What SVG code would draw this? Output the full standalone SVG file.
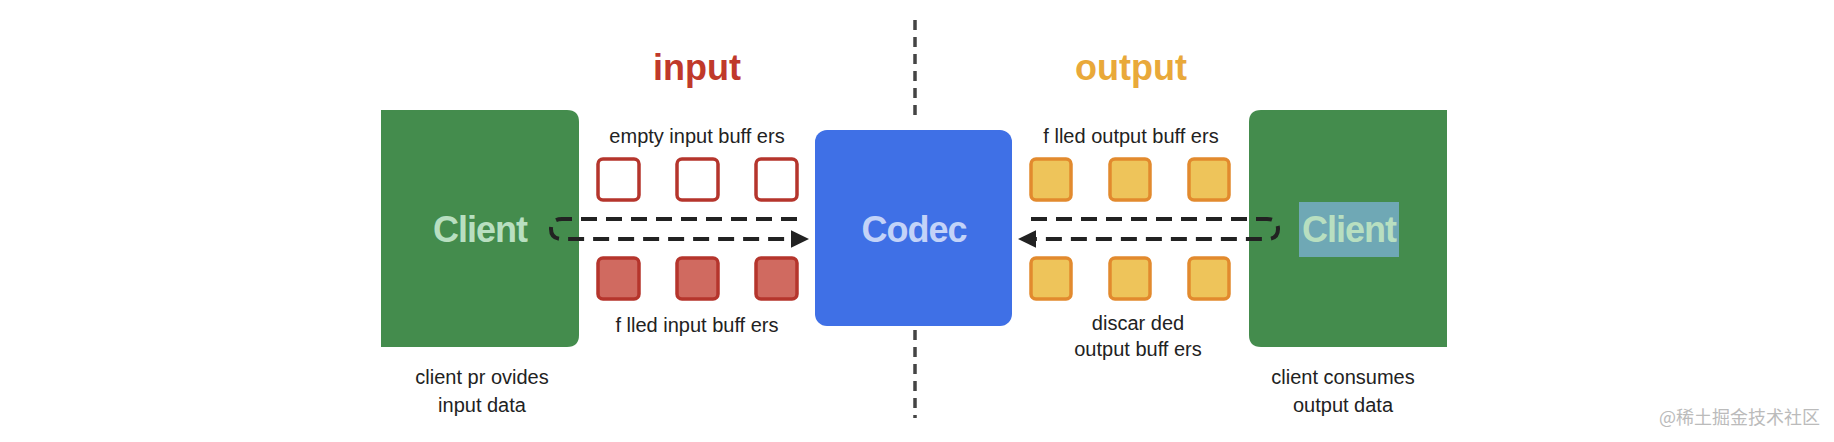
<svg xmlns="http://www.w3.org/2000/svg" width="1834" height="442" viewBox="0 0 1834 442">
<style>
.t{font-family:"Liberation Sans",Arial,sans-serif;font-size:20px;fill:#222;text-anchor:middle}
.h{font-family:"Liberation Sans",Arial,sans-serif;font-size:36px;font-weight:bold;text-anchor:middle}
.big{font-family:"Liberation Sans",Arial,sans-serif;font-size:36px;font-weight:bold;text-anchor:middle;letter-spacing:-1px}
.eb{fill:#fff;stroke:#b5352c;stroke-width:3.5}
.fb{fill:#d06a60;stroke:#b5352c;stroke-width:3.5}
.ob{fill:#eec45a;stroke:#e28a2e;stroke-width:3.5}
.d{fill:none;stroke:#222;stroke-width:4;stroke-dasharray:16 9}
</style>
<defs><marker id="ah" markerWidth="5" markerHeight="5" refX="3.5" refY="2.5" orient="auto" markerUnits="strokeWidth"><path d="M0,0.3 L4.5,2.5 L0,4.7Z" fill="#222"/></marker></defs>
<line x1="915" y1="20" x2="915" y2="122" stroke="#444" stroke-width="3.5" stroke-dasharray="10 7"/>
<line x1="915" y1="330" x2="915" y2="418" stroke="#444" stroke-width="3.5" stroke-dasharray="10 7"/>
<text class="h" x="697" y="80" fill="#c0392b">input</text>
<text class="h" x="1131" y="80" fill="#e9a93a">output</text>
<g id="client-left"><path d="M381,110 H567 Q579,110 579,122 V335 Q579,347 567,347 H381Z" fill="#448c4d"/><text class="big" x="480" y="242" fill="#b8dfc0">Client</text></g>
<g id="codec"><rect x="815" y="130" width="197" height="196" rx="12" fill="#3f70e6"/><text class="big" x="914" y="242" fill="#c3d3f8">Codec</text></g>
<g id="client-right"><path d="M1447,110 H1261 Q1249,110 1249,122 V335 Q1249,347 1261,347 H1447Z" fill="#448c4d"/><rect x="1299" y="202" width="100" height="55" fill="#6fa8b5"/><text class="big" x="1349" y="242" fill="#b8dfc0">Client</text></g>
<g id="input-buffers">
<text class="t" x="697" y="143">empty input buff ers</text>
<rect class="eb" x="598" y="159" width="41" height="41" rx="5"/><rect class="eb" x="677" y="159" width="41" height="41" rx="5"/><rect class="eb" x="756" y="159" width="41" height="41" rx="5"/>
<rect class="fb" x="598" y="258" width="41" height="41" rx="5"/><rect class="fb" x="677" y="258" width="41" height="41" rx="5"/><rect class="fb" x="756" y="258" width="41" height="41" rx="5"/>
<text class="t" x="697" y="332">f lled input buff ers</text>
</g>
<g id="output-buffers">
<text class="t" x="1131" y="143">f lled output buff ers</text>
<rect class="ob" x="1031" y="159" width="40" height="41" rx="5"/><rect class="ob" x="1110" y="159" width="40" height="41" rx="5"/><rect class="ob" x="1189" y="159" width="40" height="41" rx="5"/>
<rect class="ob" x="1031" y="258" width="40" height="41" rx="5"/><rect class="ob" x="1110" y="258" width="40" height="41" rx="5"/><rect class="ob" x="1189" y="258" width="40" height="41" rx="5"/>
<text class="t" x="1138" y="330">discar ded</text>
<text class="t" x="1138" y="356">output buff ers</text>
</g>
<g id="connectors">
<path class="d" d="M797,219 H562 Q551,219 551,229 Q551,239 562,239 H805" marker-end="url(#ah)"/>
<path class="d" d="M1031,219 H1267 Q1278,219 1278,229 Q1278,239 1267,239 H1022" marker-end="url(#ah)"/>
</g>
<text class="t" x="482" y="384">client pr ovides</text>
<text class="t" x="482" y="412">input data</text>
<text class="t" x="1343" y="384">client consumes</text>
<text class="t" x="1343" y="412">output data</text>
<text x="1820" y="424" font-family="'Noto Sans CJK SC',sans-serif" font-size="18" fill="#bbb" text-anchor="end">@稀土掘金技术社区</text>
</svg>
